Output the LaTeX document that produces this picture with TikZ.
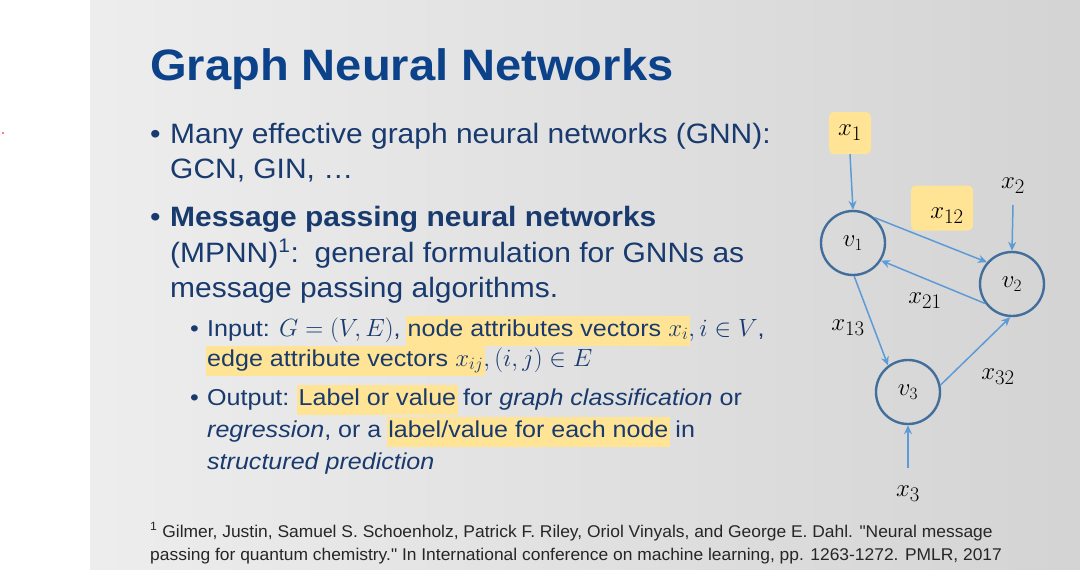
\documentclass[tikz,border=0pt]{standalone}
\usepackage{fontspec}
\setmainfont{Liberation Sans}
\newfontfamily\wide[FakeStretch=1.07]{Liberation Sans}
\newfontfamily\wider[FakeStretch=1.09]{Liberation Sans}
\newfontfamily\footf[FakeStretch=1.025]{Liberation Sans}
\usetikzlibrary{arrows.meta,calc}
\definecolor{ttl}{RGB}{12,66,138}
\definecolor{txt}{RGB}{24,58,110}
\definecolor{hly}{RGB}{255,228,150}
\definecolor{ring}{RGB}{66,110,155}
\definecolor{arr}{RGB}{93,155,215}
\newcommand\hlt[1]{{\setlength{\fboxsep}{1.5pt}\kern-1.5pt\colorbox{hly}{\strut #1}\kern-1.5pt}}
\newcommand\qq{\symbol{34}}
\tikzset{
  txtline/.style={anchor=base west,inner sep=0pt,text=txt,font=\wide\fontsize{28}{32}\selectfont},
  subline/.style={anchor=base west,inner sep=0pt,text=txt,font=\wider\fontsize{23}{27}\selectfont},
  footline/.style={anchor=base west,inner sep=0pt,text=black!85,font=\footf\fontsize{17}{20}\selectfont},
  vnode/.style={circle,draw=ring,line width=2.4pt,minimum size=64pt,inner sep=0pt,font=\fontsize{27}{30}\selectfont},
  xlab/.style={inner sep=0pt,font=\fontsize{30}{34}\selectfont},
  xbox/.style={fill=hly,rounded corners=5pt,inner sep=0pt},
  edge/.style={draw=arr,line width=1.5pt,-{Stealth[length=9pt,width=8pt]}}
}
\begin{document}
\begin{tikzpicture}[x=1pt,y=-1pt]
\useasboundingbox (0,0) rectangle (1080,570);
\fill[white] (0,0) rectangle (1080,570);
\shade[left color=black!7,right color=black!17] (90,0) rectangle (1080,570);
\fill[red] (3,133) circle (0.8);
\node[anchor=base west,inner sep=0pt,text=ttl,font=\wide\fontsize{44}{48}\selectfont\bfseries] (title) at (150,80) {Graph Neural Networks};
% bullets
\node[txtline] (b1) at (150,143) {•};
\node[txtline] (l1) at (170,143) {Many effective graph neural networks (GNN):};
\node[txtline] (l2) at (170,178) {GCN, GIN, …};
\node[txtline] (b2) at (150,226) {•};
\node[txtline] (l3) at (170,226) {\bfseries Message passing neural networks};
\node[txtline] (l4) at (170,262) {(MPNN)\textsuperscript{1}:\, general formulation for GNNs as};
\node[txtline] (l5) at (170,297) {message passing algorithms.};
\node[subline] (s1) at (190,336) {•};
\node[subline] (i1) at (207,336) {Input: $G=(V,E)$, \hlt{node attributes vectors $x_i$}$,i\in V$,};
\node[subline] (i2) at (207,366) {\hlt{edge attribute vectors $x_{ij}$}$,(i,j)\in E$};
\node[subline] (s2) at (190,405) {•};
\node[subline] (o1) at (207,405) {Output: \hlt{Label or value} for \textit{graph classification} or};
\node[subline] (o2) at (207,437) {\textit{regression}, or a \hlt{label/value for each node} in};
\node[subline] (o3) at (207,469) {\textit{structured prediction}};
\node[footline] (f1) at (150,537) {\textsuperscript{1} Gilmer, Justin, Samuel S. Schoenholz, Patrick F. Riley, Oriol Vinyals, and George E. Dahl. \qq Neural message};
\node[footline] (f2) at (150,560) {passing for quantum chemistry.\qq{} In International conference on machine learning, pp. 1263-1272. PMLR, 2017};
% graph
\node[xbox,minimum width=42pt,minimum height=42pt] (x1b) at (850,133) {};
\node[xlab] (x1) at (850,133) {$x_1$};
\node[xbox,minimum width=62pt,minimum height=45pt] (x12b) at (942,208) {};
\node[xlab] (x12) at (947,216) {$x_{12}$};
\node[vnode] (v1) at (853,243) {$v_1$};
\node[vnode] (v2) at (1012,284) {$v_2$};
\node[vnode] (v3) at (908,392) {$v_3$};
\node[xlab] (x2) at (1013,186) {$x_2$};
\coordinate (x2s) at (1013,205);
\node[xlab] (x21) at (925,301) {$x_{21}$};
\node[xlab] (x13) at (848,328) {$x_{13}$};
\node[xlab] (x32) at (998,377) {$x_{32}$};
\node[xlab] (x3) at (908,494) {$x_3$};
\coordinate (x3s) at (908,468);
\draw[edge] (x1b.south) -- (v1.north);
\draw[edge] (x2s) -- (v2.north);
\draw[edge] (x3s) -- (v3.south);
\draw[edge] (v1.50) -- (v2.139);
\draw[edge] (v2.216) -- (v1.-32);
\draw[edge] (v1.-88) -- (v3.127);
\draw[edge] (v3.12) -- (v2.-93);
\end{tikzpicture}
\end{document}
